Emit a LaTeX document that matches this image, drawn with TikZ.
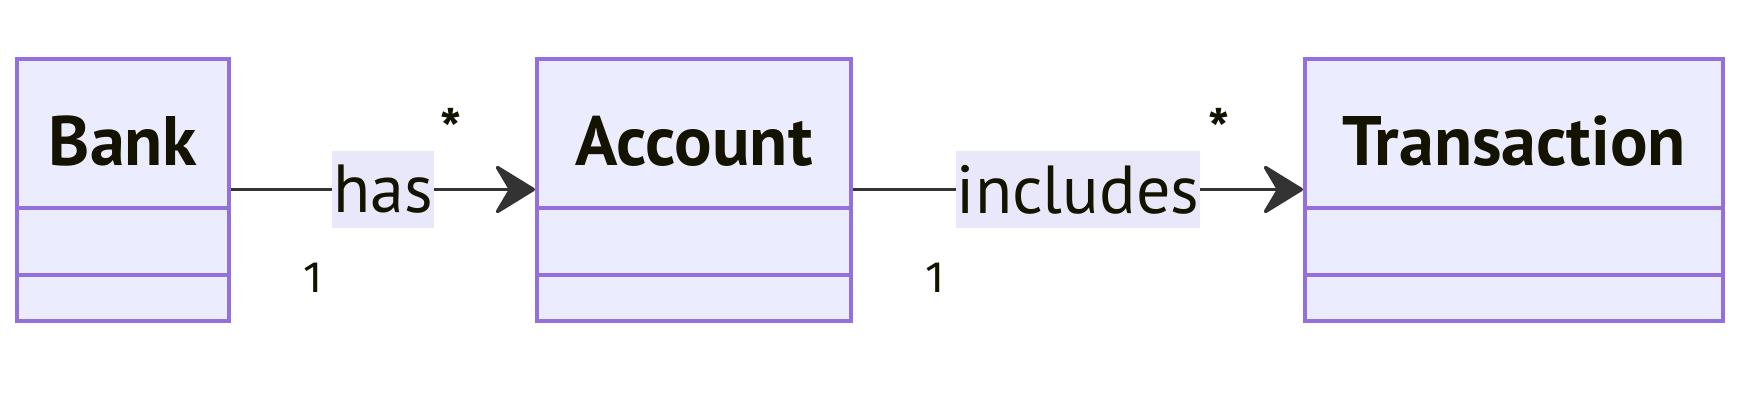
\documentclass[tikz,border=0pt]{standalone}
\usepackage{fontspec}
\setmainfont{PT Sans}
\newfontfamily\multfont{Fira Sans}
\usepackage{tikz}
\usetikzlibrary{positioning}
\usetikzlibrary{arrows.meta}
\definecolor{classfill}{HTML}{ECECFF}
\definecolor{classline}{HTML}{9370DB}
\definecolor{edgeline}{HTML}{333333}
\definecolor{txt}{HTML}{131300}
\definecolor{lblfill}{HTML}{E8E8FA}
\tikzset{
	class node/.style={rectangle,draw=classline,fill=classfill,line width=2pt,
		minimum height=131pt,inner sep=0pt},
	class name/.style={font=\fontsize{35}{42}\selectfont\bfseries,text=txt,anchor=base,inner sep=0pt},
	edge label/.style={fill=lblfill,font=\fontsize{34}{40}\selectfont,text=txt,
		inner xsep=0.5pt,inner ysep=0pt,minimum height=38.5pt},
	mult/.style={font=\multfont\fontsize{22}{26}\selectfont,text=txt,inner sep=0pt},
	star/.style={mult,font=\multfont\fontsize{21}{25}\selectfont\bfseries},
	divider/.style={-,draw=classline,line width=2pt},
	assoc/.style={draw=edgeline,line width=1.75pt}
}

\begin{document}
\begin{tikzpicture}[x=0.5pt,y=0.5pt,->,>={Stealth[length=22pt,width=27pt,inset=8pt,round]},
	    node distance=152pt]
	    \useasboundingbox (0,0) rectangle (1764,408);
	    \node [class node,minimum width=106pt] (bank) at (123,218.5) {};
	    \node [class node,minimum width=157pt,right=152pt of bank] (acc) {};
	    \node [class node,minimum width=209pt,right=225pt of acc] (tr) {};
	    \foreach \c in {bank,acc,tr}{
	      \draw [divider] ([yshift=57.5pt]\c.south west) -- ([yshift=57.5pt]\c.south east);
	      \draw [divider] ([yshift=24pt]\c.south west) -- ([yshift=24pt]\c.south east);
	    }
	    \node [class name] (bankname) at ([yshift=-54.5pt]bank.north) {Bank};
	    \node [class name] (accname) at ([yshift=-54.5pt]acc.north) {Account};
	    \node [class name] (trname) at ([yshift=-54.5pt]tr.north) {Transaction};
	    \draw [assoc] (bank) -- node [edge label] (has) {has} (acc);
	    \draw [assoc] (acc) -- node [edge label] (incl) {includes} (tr);
	    \node [mult] (m1) at ([xshift=41pt,yshift=-44pt]bank.east) {1};
	    \node [star] (m2) at ([xshift=-42pt,yshift=33pt]acc.west) {*};
	    \node [mult] (m3) at ([xshift=41pt,yshift=-44pt]acc.east) {1};
	    \node [star] (m4) at ([xshift=-42pt,yshift=33pt]tr.west) {*};
	  \end{tikzpicture}
\end{document}
